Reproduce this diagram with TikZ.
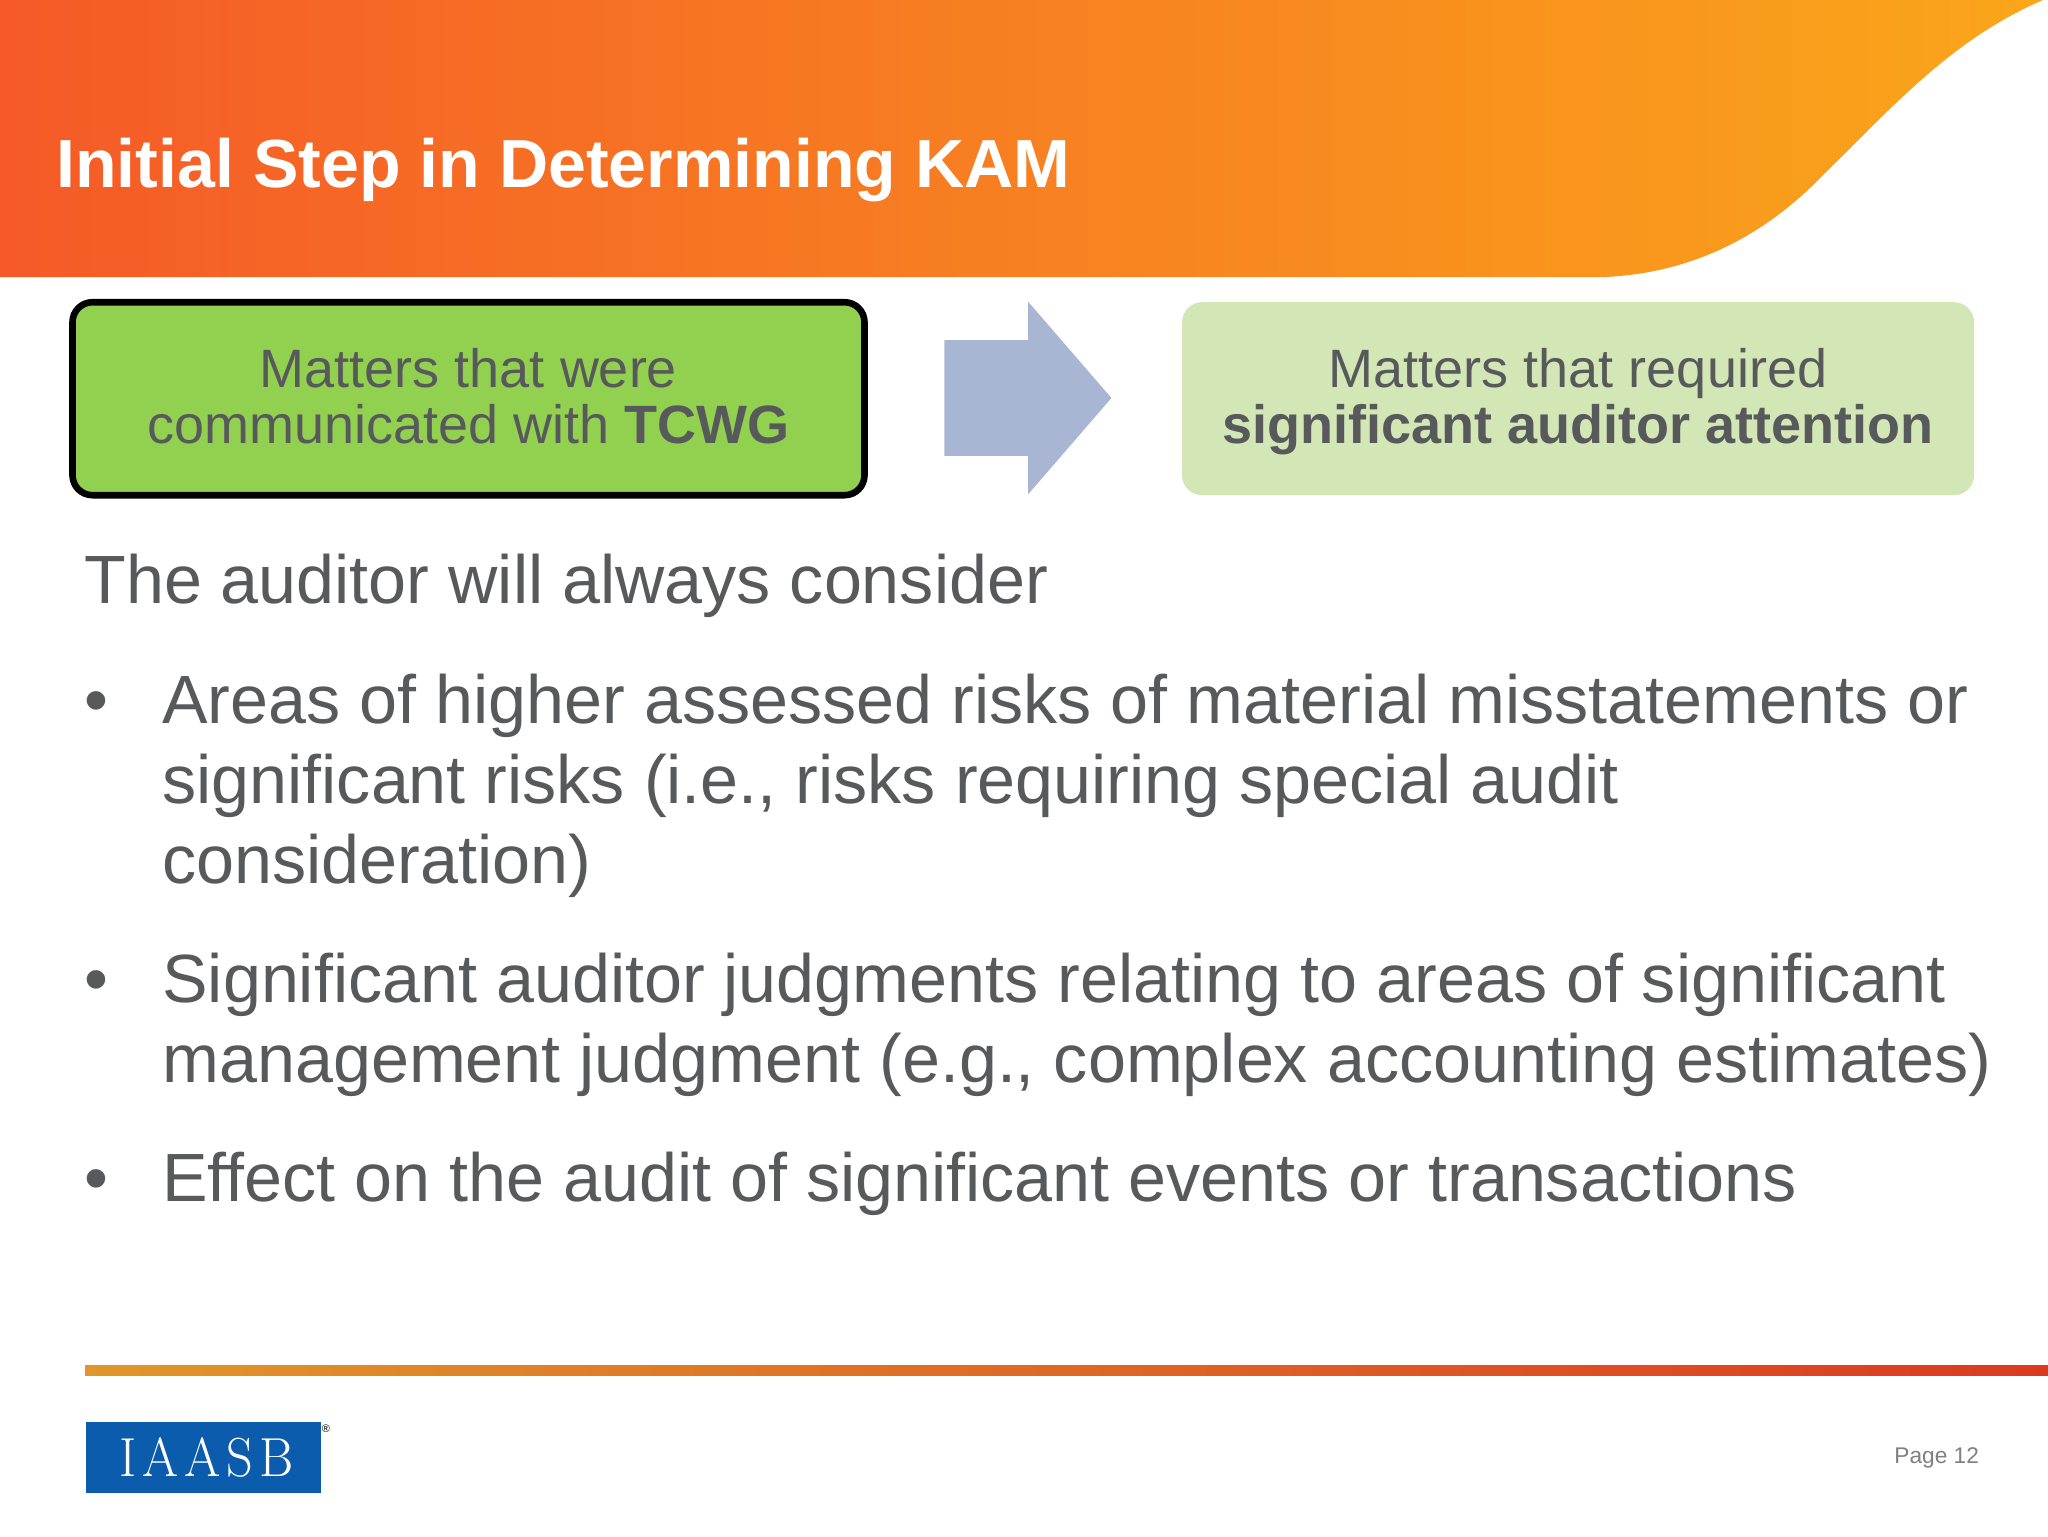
\documentclass[tikz,border=0pt]{standalone}
\usepackage{fontspec}
\setsansfont{Liberation Sans}
\newfontfamily\logofont[LetterSpace=11,FakeStretch=0.95]{Latin Modern Roman}
\usetikzlibrary{positioning,shapes.arrows}

\definecolor{headleft}{HTML}{F55A28}
\definecolor{headmid}{HTML}{F7841F}
\definecolor{headright}{HTML}{FAA61A}
\definecolor{ruleleft}{HTML}{E0962A}
\definecolor{ruleright}{HTML}{DC3A20}
\definecolor{bodygrey}{HTML}{58595B}
\definecolor{pagegrey}{HTML}{808080}
\definecolor{boxgreen}{HTML}{92D050}
\definecolor{boxpale}{HTML}{D3E6B5}
\definecolor{arrowblue}{HTML}{A9B6D3}
\definecolor{logoblue}{HTML}{0B5CAD}
\newcommand{\boxtop}{\rule{0pt}{24.9pt}}

\begin{document}
\begin{tikzpicture}[%
    x=0.5pt,
    y=-0.5pt,
    node distance=158.75pt,
    matterbox/.style={%
      rectangle,
      rounded corners=10pt,
      minimum width=396pt,
      minimum height=96.5pt,
      inner sep=0pt,
      outer sep=0pt,
      align=center,
      text=bodygrey,
      font=\sffamily\fontsize{27}{28}\selectfont,
      execute at end node={\rule[-8.4pt]{0pt}{8.4pt}}
    },
    bodytext/.style={%
      anchor=base west,
      inner sep=0pt,
      align=left,
      text=bodygrey,
      font=\sffamily\fontsize{34.13}{40}\selectfont
    },
    blockarrow/.style={%
      single arrow,
      anchor=tail,
      fill=arrowblue,
      inner sep=0pt,
      text height=28.75pt,
      text depth=28.75pt,
      minimum height=83.5pt,
      minimum width=96pt,
      single arrow head extend=19.25pt,
      single arrow tip angle=98.3
    }
  ]
    \useasboundingbox (0,0) rectangle (2048,1536);

    % header band
    \path[left color=headleft,middle color=headmid,right color=headright]
      (0,0) -- (2043,0) .. controls (1950,40) and (1890,110) .. (1825,173)
      .. controls (1785,215) and (1715,272) .. (1605,277) -- (0,277) -- cycle;
    \node[anchor=base west,inner sep=0pt,text=white,font=\sffamily\bfseries\fontsize{34.05}{40}\selectfont] (title) at (56,187) {Initial Step in Determining KAM};

    % the two boxes and the arrow
    \node[matterbox,draw=black,line width=3.3pt,fill=boxgreen] (communicated) at (468.5,398.7) {\boxtop Matters that were\\communicated with \textbf{TCWG}};
    \node[matterbox,fill=boxpale] (required) [right=of communicated] {\boxtop Matters that required\\\textbf{significant auditor attention}};
    \node[blockarrow] (arrow) at (944,398) {};

    % body
    \node[bodytext] (lead) at (84,603) {The auditor will always consider};
    \node[bodytext] (dot1) at (84,723) {•};
    \node[bodytext] (item1) at (162,883) {Areas of higher assessed risks of material misstatements or\\significant risks (i.e., risks requiring special audit\\consideration)};
    \node[bodytext] (dot2) at (84,1002) {•};
    \node[bodytext] (item2) at (162,1082) {Significant auditor judgments relating to areas of significant\\management judgment (e.g., complex accounting estimates)};
    \node[bodytext] (dot3) at (84,1201) {•};
    \node[bodytext] (item3) at (162,1201) {Effect on the audit of significant events or transactions};

    % footer
    \path[left color=ruleleft,right color=ruleright] (85,1365) rectangle (2048,1375);
    \node[anchor=north west,minimum width=117.5pt,minimum height=35.5pt,inner sep=0pt,outer sep=0pt,fill=logoblue,text=white,font=\logofont\fontsize{27.5}{28}\selectfont] (logo) at (86,1422) {\kern3pt IAASB};
    \node[anchor=center,inner sep=0pt,text=black!80,font=\sffamily\bfseries\fontsize{5.5}{6}\selectfont] (mark) at (326,1429) {®};
    \node[anchor=base west,inner sep=0pt,text=pagegrey,font=\sffamily\fontsize{11.35}{13}\selectfont] (page) at (1894,1463) {Page 12};
\end{tikzpicture}
\end{document}
